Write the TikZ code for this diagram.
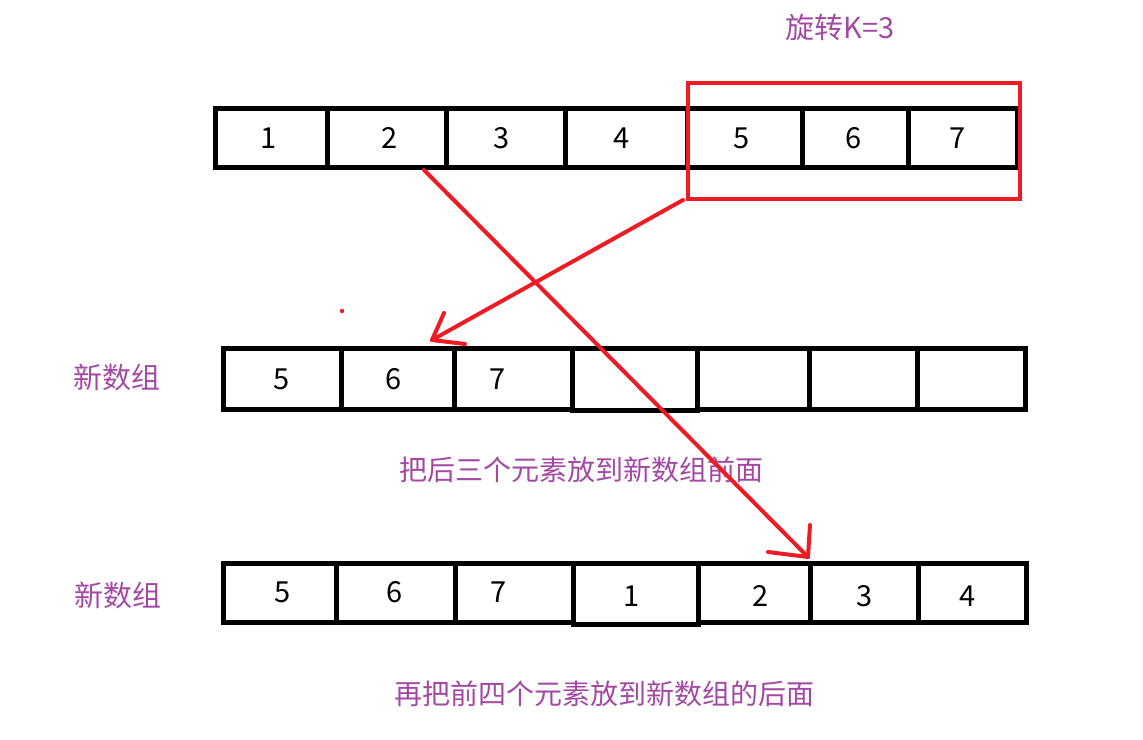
\documentclass[tikz,border=0pt]{standalone}
\usepackage{fontspec}
\setmainfont{Noto Sans CJK SC}
\begin{document}
\begin{tikzpicture}[x=1pt,y=-1pt,
  cell/.style={draw=black, line width=5pt, rectangle, inner sep=0pt, minimum height=59pt},
  num/.style={inner sep=0pt, font=\fontsize{29pt}{30pt}\selectfont, text=black},
  lbl/.style={inner sep=0pt, text=purp},
  redline/.style={draw=redc, line width=4pt, line cap=round, line join=round}]
\definecolor{purp}{RGB}{163,73,164}
\definecolor{redc}{RGB}{237,28,36}
\useasboundingbox (0,0) rectangle (1143,739);
% row 1
\node[cell, minimum width=112pt] (r1c1) at (271,138) {};
\node[cell, minimum width=119pt] (r1c2) at (386.5,138) {};
\node[cell, minimum width=119pt] (r1c3) at (505.5,138) {};
\node[cell, minimum width=122pt] (r1c4) at (626,138) {};
\node[cell, minimum width=115pt] (r1c5) at (744.5,138) {};
\node[cell, minimum width=106pt] (r1c6) at (855,138) {};
\node[cell, minimum width=109pt] (r1c7) at (962.5,138) {};
\node[num] (n11) at (269,138) {1};
\node[num] (n12) at (390,138) {2};
\node[num] (n13) at (502,138) {3};
\node[num] (n14) at (622,138) {4};
\node[num] (n15) at (742,138) {5};
\node[num] (n16) at (854,138) {6};
\node[num] (n17) at (958,138) {7};
% row 2
\node[cell, minimum width=118pt, minimum height=61pt] (r2c1) at (282,378.5) {};
\node[cell, minimum width=113pt, minimum height=61pt] (r2c2) at (397.5,378.5) {};
\node[cell, minimum width=118pt, minimum height=61pt] (r2c3) at (513,378.5) {};
\node[cell, minimum width=125pt, minimum height=62pt] (r2c4) at (634.5,379) {};
\node[cell, minimum width=112pt, minimum height=61pt] (r2c5) at (753,378.5) {};
\node[cell, minimum width=108pt, minimum height=61pt] (r2c6) at (863,378.5) {};
\node[cell, minimum width=108pt, minimum height=61pt] (r2c7) at (971,378.5) {};
\node[num] (n21) at (282,379) {5};
\node[num] (n22) at (394,379) {6};
\node[num] (n23) at (498,379) {7};
% row 3
\node[cell, minimum width=113pt] (r3c1) at (279.5,592.5) {};
\node[cell, minimum width=119pt] (r3c2) at (395.5,592.5) {};
\node[cell, minimum width=118pt] (r3c3) at (514,592.5) {};
\node[cell, minimum width=125pt, minimum height=61pt] (r3c4) at (635.5,593.5) {};
\node[cell, minimum width=112pt] (r3c5) at (754,592.5) {};
\node[cell, minimum width=108pt] (r3c6) at (864,592.5) {};
\node[cell, minimum width=108pt] (r3c7) at (972,592.5) {};
\node[num] (n31) at (283,592) {5};
\node[num] (n32) at (395,592) {6};
\node[num] (n33) at (499,592) {7};
\node[num] (n34) at (632,596) {1};
\node[num] (n35) at (761,596) {2};
\node[num] (n36) at (865,596) {3};
\node[num] (n37) at (968,596) {4};
% labels
\node[lbl, font=\fontsize{29pt}{30pt}\selectfont] (title) at (840,27) {旋转K=3};
\node[lbl, font=\fontsize{29pt}{30pt}\selectfont] (new1) at (117,377) {新数组};
\node[lbl, font=\fontsize{29pt}{30pt}\selectfont] (new2) at (118,595) {新数组};
\node[lbl, font=\fontsize{28pt}{29pt}\selectfont] (cap1) at (581,470) {把后三个元素放到新数组前面};
\node[lbl, font=\fontsize{28pt}{29pt}\selectfont] (cap2) at (604,694) {再把前四个元素放到新数组的后面};
% red box
\node[draw=redc, line width=4pt, rectangle, inner sep=0pt, minimum width=332pt, minimum height=116pt] (rb) at (854,141) {};
% arrows
\coordinate (a1s) at (683,200);
\coordinate (a1t) at (432,340);
\coordinate (a1b1) at (444,313);
\coordinate (a1b2) at (465,344);
\draw[redline] (a1s) -- (a1t);
\draw[redline] (a1b1) -- (a1t) -- (a1b2);
\coordinate (a2s) at (424,170);
\coordinate (a2t) at (808,557);
\coordinate (a2b1) at (810,525);
\coordinate (a2b2) at (768,552);
\draw[redline] (a2s) -- (a2t);
\draw[redline] (a2b1) -- (a2t) -- (a2b2);
\fill[redc] (342,311) circle (2.2pt);
\end{tikzpicture}
\end{document}
